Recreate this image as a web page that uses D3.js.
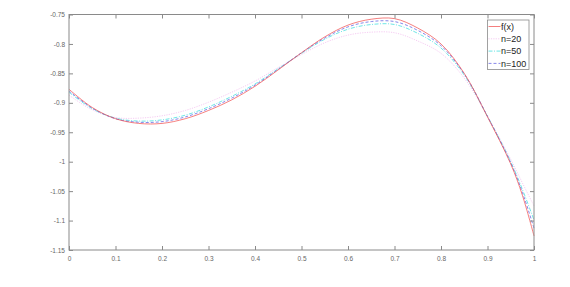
<!DOCTYPE html>
<html>
<head>
<meta charset="utf-8">
<script src="https://cdn.jsdelivr.net/npm/d3@7"></script>
<style>
  body { margin: 0; background: #fff; }
  svg { display: block; font-family: "Liberation Sans", Arial, sans-serif; }
  .tick-label { font-size: 6.5px; fill: #666; }
  .legend-text { font-size: 9px; fill: #222; }
</style>
</head>
<body>
<svg id="chart"></svg>
<script>
const width = 570, height = 287;
const margin = { left: 69, right: 36, top: 14.5, bottom: 37 };

// sample positions
const xs = [0, 0.05, 0.1, 0.15, 0.2, 0.25, 0.3, 0.35, 0.4, 0.45, 0.5,
            0.55, 0.6, 0.65, 0.7, 0.75, 0.8, 0.85, 0.9, 0.95, 0.975, 1];

const fx   = [-0.877, -0.908, -0.927, -0.935, -0.935, -0.927, -0.913, -0.895, -0.872, -0.844, -0.815,
              -0.788, -0.768, -0.758, -0.757, -0.773, -0.800, -0.850, -0.924, -1.004, -1.057, -1.126];
const n20  = [-0.887, -0.912, -0.925, -0.926, -0.922, -0.913, -0.899, -0.882, -0.863, -0.840, -0.818,
              -0.798, -0.785, -0.780, -0.781, -0.795, -0.816, -0.858, -0.923, -0.996, -1.036, -1.075];
const n50  = [-0.882, -0.910, -0.926, -0.931, -0.929, -0.921, -0.907, -0.889, -0.868, -0.842, -0.816,
              -0.792, -0.775, -0.767, -0.767, -0.782, -0.807, -0.853, -0.923, -1.000, -1.047, -1.099];
const n100 = [-0.880, -0.909, -0.927, -0.933, -0.932, -0.924, -0.910, -0.892, -0.870, -0.843, -0.815,
              -0.790, -0.771, -0.762, -0.762, -0.777, -0.803, -0.851, -0.923, -1.002, -1.052, -1.113];

const xTicks = [0, 0.1, 0.2, 0.3, 0.4, 0.5, 0.6, 0.7, 0.8, 0.9, 1];
const xTickLabels = ['0', '0.1', '0.2', '0.3', '0.4', '0.5', '0.6', '0.7', '0.8', '0.9', '1'];
const yTicks = [-0.75, -0.8, -0.85, -0.9, -0.95, -1, -1.05, -1.1, -1.15];
const yTickLabels = ['-0.75', '-0.8', '-0.85', '-0.9', '-0.95', '-1', '-1.05', '-1.1', '-1.15'];

const seriesNames = ['f(x)', 'n=20', 'n=50', 'n=100'];
const seriesValues = [fx, n20, n50, n100];
const seriesColors = ['#f04848', '#f4c6f0', '#5fe3e3', '#7b7be6'];
const seriesWidths = [0.7, 0.9, 0.9, 0.9];
const seriesDash = [null, '1.2,1.2', '4,1.5,1,1.5', '3,2'];

const svg = d3.select('#chart').attr('width', width).attr('height', height);

const x = d3.scaleLinear().domain([0, 1]).range([margin.left, width - margin.right]);
const y = d3.scaleLinear().domain([-1.15, -0.75]).range([height - margin.bottom, margin.top]);

const plotW = width - margin.left - margin.right;
const plotH = height - margin.top - margin.bottom;

// lines
const line = d3.line().x(d => x(d[0])).y(d => y(d[1])).curve(d3.curveCatmullRom.alpha(0.5));
const plot = svg.append('g');

// draw back to front so red stays visible
[1, 2, 3, 0].forEach(i => {
  plot.append('path')
    .datum(xs.map((v, j) => [v, seriesValues[i][j]]))
    .attr('d', line)
    .attr('fill', 'none')
    .attr('stroke', seriesColors[i])
    .attr('stroke-width', seriesWidths[i])
    .attr('stroke-dasharray', seriesDash[i]);
});

// axes (box with inward ticks)
const tickLen = 4;
const axisColor = '#8a8a8a';

svg.append('g')
  .attr('transform', `translate(0,${y(-1.15)})`)
  .call(d3.axisBottom(x).tickValues(xTicks).tickSizeInner(-tickLen).tickSizeOuter(0)
    .tickFormat((d, i) => xTickLabels[i]))
  .call(g => g.select('.domain').remove())
  .call(g => g.selectAll('line').attr('stroke', axisColor))
  .call(g => g.selectAll('text').attr('class', 'tick-label').attr('dy', '0.71em').attr('y', 6));

svg.append('g')
  .attr('transform', `translate(0,${y(-0.75)})`)
  .call(d3.axisTop(x).tickValues(xTicks).tickSizeInner(-tickLen).tickSizeOuter(0).tickFormat(''))
  .call(g => g.select('.domain').remove())
  .call(g => g.selectAll('line').attr('stroke', axisColor));

svg.append('g')
  .attr('transform', `translate(${x(0)},0)`)
  .call(d3.axisLeft(y).tickValues(yTicks).tickSizeInner(-tickLen).tickSizeOuter(0)
    .tickFormat((d, i) => yTickLabels[i]))
  .call(g => g.select('.domain').remove())
  .call(g => g.selectAll('line').attr('stroke', axisColor))
  .call(g => g.selectAll('text').attr('class', 'tick-label').attr('x', -4));

svg.append('g')
  .attr('transform', `translate(${x(1)},0)`)
  .call(d3.axisRight(y).tickValues(yTicks).tickSizeInner(-tickLen).tickSizeOuter(0).tickFormat(''))
  .call(g => g.select('.domain').remove())
  .call(g => g.selectAll('line').attr('stroke', axisColor));

svg.append('rect')
  .attr('x', margin.left).attr('y', margin.top)
  .attr('width', plotW).attr('height', plotH)
  .attr('fill', 'none').attr('stroke', axisColor).attr('stroke-width', 1);

// legend
const legend = svg.append('g').attr('transform', 'translate(487.5,20)');
legend.append('rect')
  .attr('width', 41.5).attr('height', 49.5)
  .attr('fill', '#fff').attr('stroke', '#8a8a8a').attr('stroke-width', 0.8);

seriesNames.forEach((name, i) => {
  const ly = 6.5 + i * 12.3;
  legend.append('line')
    .attr('x1', 1).attr('x2', 13).attr('y1', ly).attr('y2', ly)
    .attr('stroke', seriesColors[i]).attr('stroke-width', seriesWidths[i])
    .attr('stroke-dasharray', seriesDash[i]);
  legend.append('text').attr('class', 'legend-text')
    .attr('x', 13.5).attr('y', ly).attr('dy', '0.35em')
    .text(name);
});
</script>
</body>
</html>
